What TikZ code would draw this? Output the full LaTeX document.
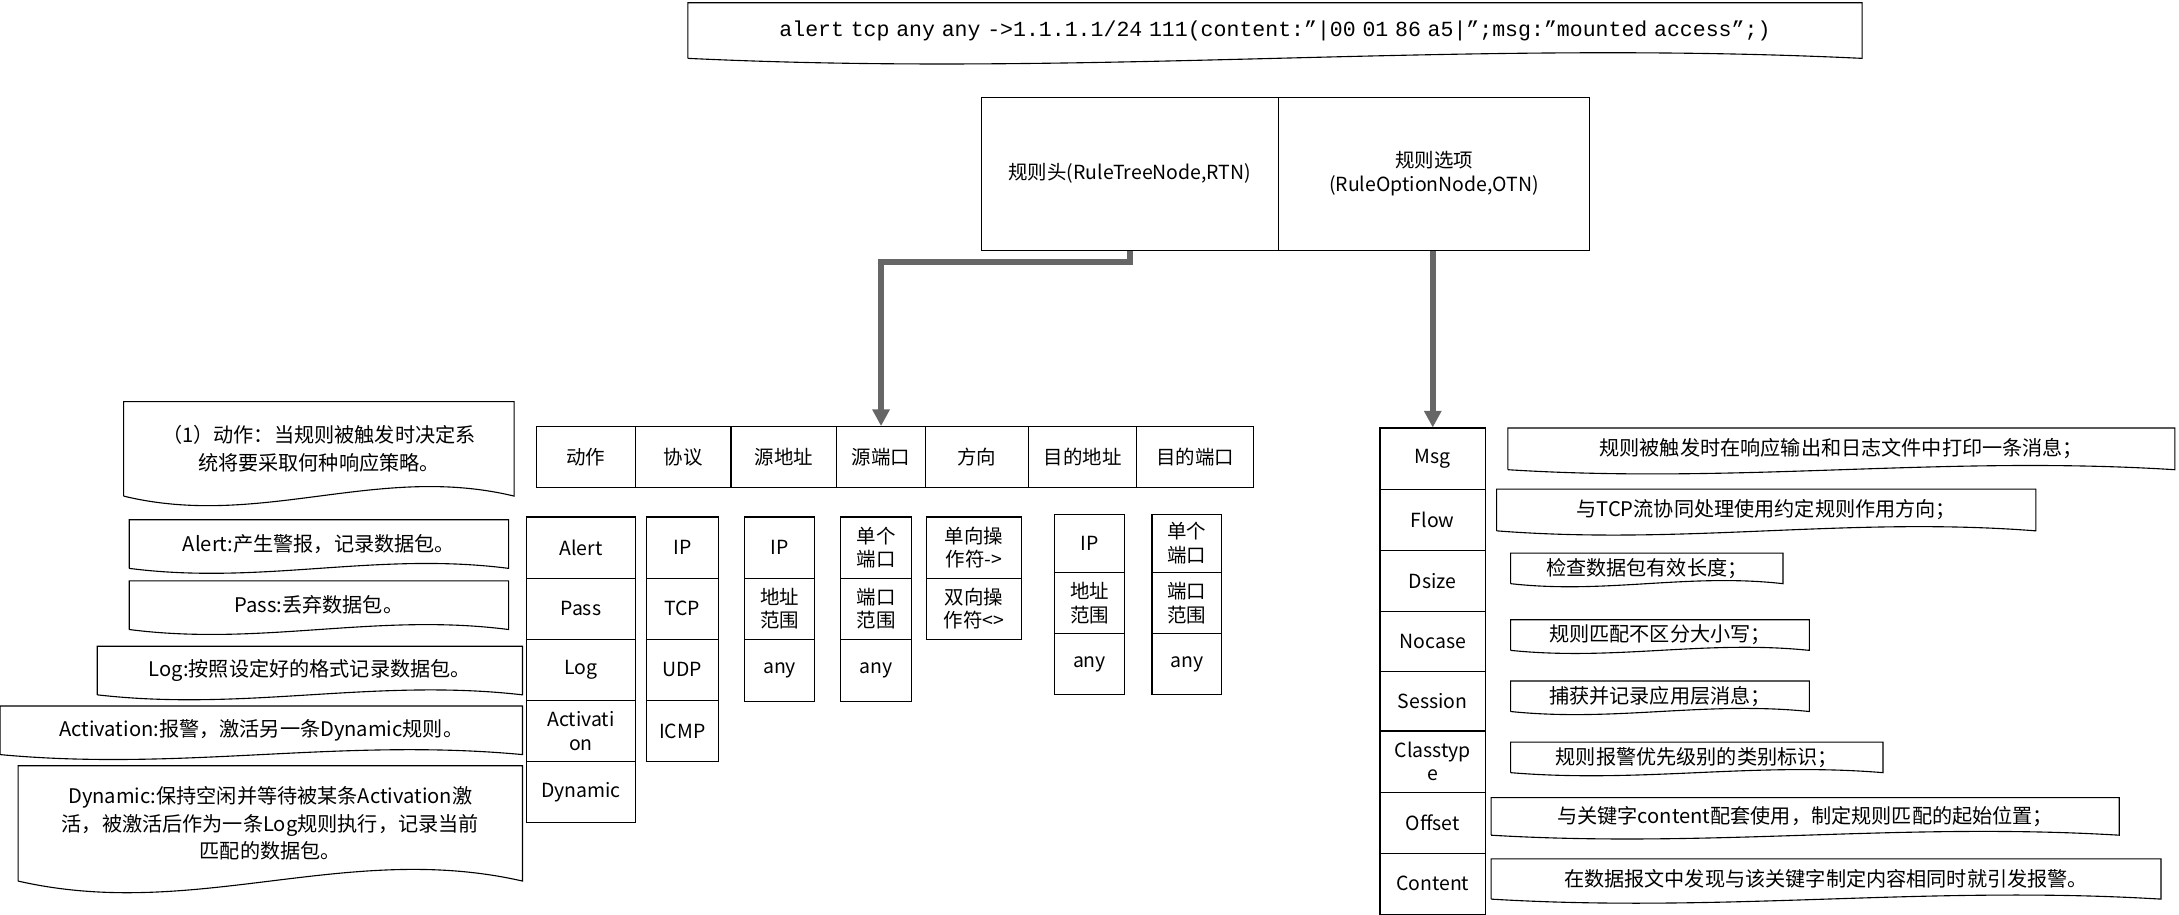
\documentclass[tikz,border=0pt]{standalone}
\usepackage{fontspec}
\setmainfont{Noto Sans CJK SC}
\newfontfamily\monof{Liberation Mono}
\usetikzlibrary{arrows.meta,calc}
\tikzset{
  cell/.style={draw,line width=0.8pt,inner sep=0pt,align=center,font=\fontsize{14}{17}\selectfont},
  conn/.style={line width=4pt,draw=black!60,-{Triangle[length=12pt,width=12pt]}},
  doc/.style={line width=0.8pt},
  doctext/.style={align=center,inner sep=0pt,font=\fontsize{14.5}{20}\selectfont}
}
% name, x0, y0, x1, yb, text
\newcommand\docbox[6]{%
  \pgfmathsetmacro\dw{#4-#2}\pgfmathsetmacro\da{0.35*(#5-#3)}%
  \draw[doc] (#2,#5) -- (#2,#3) -- (#4,#3) -- (#4,#5)
     .. controls ({#2+0.65*\dw},{#5-\da}) and ({#2+0.35*\dw},{#5+\da}) .. (#2,#5);
  \node[doctext,text width={\dw-10}] (#1) at ({(#2+#4)/2},{#3+0.5*(#5-#3)}) {#6};}
\newcommand\cellat[7]{% name x0 y0 x1 y1 text
  \node[cell,minimum width={(#4-#2)*1pt},minimum height={(#5-#3)*1pt}] (#1) at ({(#2+#4)/2},{(#3+#5)/2}) {#6};}
\begin{document}
\begin{tikzpicture}[x=1pt,y=-1pt]
\useasboundingbox (0,0) rectangle (1568,658);
% top rule
\docbox{rule}{495}{2}{1340}{42}{\monof\fontsize{15.5}{18}\selectfont alert tcp any any ->1.1.1.1/24 111(content:”|00 01 86 a5|”;msg:”mounted access”;)\\[4pt]}
\node[cell,minimum width=214pt,minimum height=110pt] (rtn) at (813,125) {规则头(RuleTreeNode,RTN)};
\node[cell,minimum width=224pt,minimum height=110pt] (otn) at (1032,125) {规则选项\\(RuleOptionNode,OTN)};
% header row
\cellat{ha}{386}{307}{457}{351}{动作}{}
\cellat{hp}{457}{307}{526}{351}{协议}{}
\cellat{hsa}{526}{307}{602}{351}{源地址}{}
\cellat{hsp}{602}{307}{666}{351}{源端口}{}
\cellat{hd}{666}{307}{740}{351}{方向}{}
\cellat{hda}{740}{307}{818}{351}{目的地址}{}
\cellat{hdp}{818}{307}{902}{351}{目的端口}{}
% action column
\cellat{a1}{379}{372}{457}{416}{Alert}{}
\cellat{a2}{379}{416}{457}{460}{Pass}{}
\cellat{a3}{379}{460}{457}{504}{Log}{}
\cellat{a4}{379}{504}{457}{548}{Activati\\on}{}
\cellat{a5}{379}{548}{457}{592}{Dynamic}{}
% protocol
\cellat{p1}{465}{372}{517}{416}{IP}{}
\cellat{p2}{465}{416}{517}{460}{TCP}{}
\cellat{p3}{465}{460}{517}{504}{UDP}{}
\cellat{p4}{465}{504}{517}{548}{ICMP}{}
% src addr
\cellat{sa1}{536}{372}{586}{416}{IP}{}
\cellat{sa2}{536}{416}{586}{460}{地址\\范围}{}
\cellat{sa3}{536}{460}{586}{505}{any}{}
% src port
\cellat{sp1}{605}{372}{656}{416}{单个\\端口}{}
\cellat{sp2}{605}{416}{656}{460}{端口\\范围}{}
\cellat{sp3}{605}{460}{656}{505}{any}{}
% direction
\cellat{d1}{667}{372}{735}{416}{单向操\\作符->}{}
\cellat{d2}{667}{416}{735}{460}{双向操\\作符<>}{}
% dst addr
\cellat{da1}{759}{370}{809}{412}{IP}{}
\cellat{da2}{759}{412}{809}{456}{地址\\范围}{}
\cellat{da3}{759}{456}{809}{500}{any}{}
% dst port
\cellat{dp1}{829}{370}{879}{412}{单个\\端口}{}
\cellat{dp2}{829}{412}{879}{456}{端口\\范围}{}
\cellat{dp3}{829}{456}{879}{500}{any}{}
% option column
\cellat{o1}{993}{308}{1069}{352}{Msg}{}
\cellat{o2}{993}{352}{1069}{396}{Flow}{}
\cellat{o3}{993}{396}{1069}{440}{Dsize}{}
\cellat{o4}{993}{440}{1069}{483}{Nocase}{}
\cellat{o5}{993}{483}{1069}{526}{Session}{}
\cellat{o6}{993}{526}{1069}{570}{Classtyp\\e}{}
\cellat{o7}{993}{570}{1069}{614}{Offset}{}
\cellat{o8}{993}{614}{1069}{658}{Content}{}
% connectors
\draw[conn] (rtn.south) -- ++(0,8) -| (hsp.north);
\draw[conn] (o1.north |- otn.south) -- (o1.north);
% left docs
\docbox{t1}{89}{289}{370}{357}{（1）动作：当规则被触发时决定系\\统将要采取何种响应策略。\\[8pt]}
\docbox{t2}{93}{374}{366}{409}{Alert:产生警报，记录数据包。\\[6pt]}
\docbox{t3}{93}{418}{366}{453}{Pass:丢弃数据包。\\[6pt]}
\docbox{t4}{70}{465}{376}{500}{Log:按照设定好的格式记录数据包。\\[6pt]}
\docbox{t5}{0}{508}{376}{543}{Activation:报警，激活另一条Dynamic规则。\\[6pt]}
\docbox{t6}{13}{551}{376}{634}{Dynamic:保持空闲并等待被某条Activation激\\活，被激活后作为一条Log规则执行，记录当前\\匹配的数据包。\\[16pt]}
% right docs
\docbox{r1}{1085}{308}{1565}{338}{规则被触发时在响应输出和日志文件中打印一条消息；\\[6pt]}
\docbox{r2}{1077}{352}{1465}{382}{与TCP流协同处理使用约定规则作用方向；\\[6pt]}
\docbox{r3}{1087}{398}{1283}{420}{检查数据包有效长度；\\[4pt]}
\docbox{r4}{1087}{446}{1302}{468}{规则匹配不区分大小写；\\[4pt]}
\docbox{r5}{1087}{490}{1302}{512}{捕获并记录应用层消息；\\[4pt]}
\docbox{r6}{1087}{534}{1355}{556}{规则报警优先级别的类别标识；\\[4pt]}
\docbox{r7}{1073}{574}{1525}{601}{与关键字content配套使用，制定规则匹配的起始位置；\\[6pt]}
\docbox{r8}{1073}{618}{1555}{647}{在数据报文中发现与该关键字制定内容相同时就引发报警。\\[6pt]}
\end{tikzpicture}
\end{document}
